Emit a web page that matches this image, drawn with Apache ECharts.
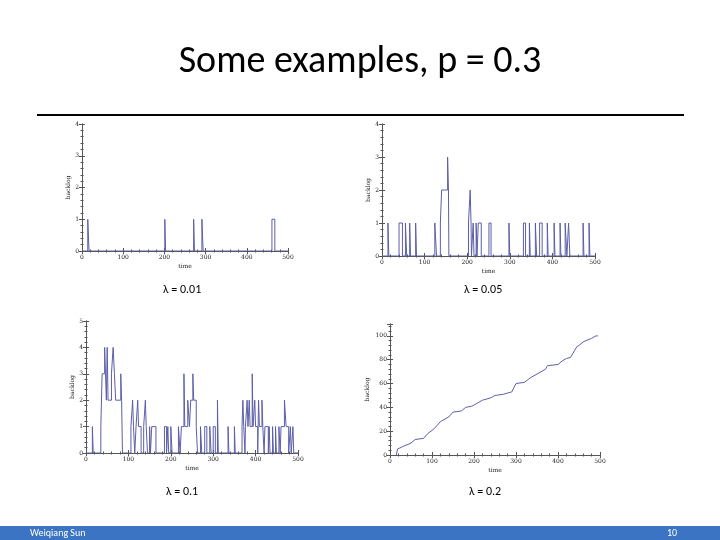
<!DOCTYPE html>
<html><head><meta charset="utf-8">
<script src="https://cdn.jsdelivr.net/npm/echarts@6/dist/echarts.min.js"></script>
<style>html,body{margin:0;padding:0;background:#fff}#main{width:720px;height:540px}</style>
</head><body><div id="main"></div>
<script>
// step data: [time, backlog] — value holds from this time until the next point
const lam001 = [[0,0],[14,1],[17,0],[201,1],[203,0],[271,1],[273,0],[291,1],[294,0],[461,1],[468,0],[500,0]];
const lam005 = [[0,0],[14,1],[16,0],[40,1],[48,0],[55,1],[58,0],[65,1],[67,0],[79,1],[81,0],[124,1],[128,0],
  [137,1],[140,2],[154,3],[156,2],[157,0],[203,1],[207,2],[209,1],[210,0],[214,1],[216,0],[221,1],[223,0],
  [226,1],[233,0],[251,1],[256,0],[298,1],[300,0],[332,1],[337,0],[346,1],[348,0],[360,1],[363,0],[370,1],[376,0],
  [388,1],[390,0],[404,1],[406,0],[418,1],[420,0],[430,1],[434,0],[438,1],[441,0],[472,1],[474,0],[486,1],[488,0],[500,0]];
const lam01 = [[0,0],[15,1],[17,0],[35,1],[38,3],[44,4],[46,3],[48,2],[50,4],[52,2],[60,3],[64,4],[67,3],[70,2],[82,3],
  [84,2],[86,0],[106,1],[110,2],[112,1],[115,0],[118,1],[122,2],[124,1],[130,0],[136,1],[140,2],[142,1],[145,0],
  [150,1],[152,0],[155,1],[165,0],[185,1],[190,0],[193,1],[195,0],[200,1],[203,0],[218,1],[222,0],[225,1],[231,3],
  [233,1],[240,2],[244,1],[247,2],[252,3],[254,2],[260,1],[263,0],[270,1],[273,0],[280,1],[285,0],[292,1],[295,0],
  [300,1],[305,0],[310,2],[312,0],[335,1],[337,0],[350,1],[352,0],[368,1],[370,2],[372,1],[375,0],[376,1],[380,2],
  [382,1],[385,2],[387,1],[392,3],[394,1],[398,2],[400,1],[405,0],[407,2],[409,1],[415,2],[417,1],[420,0],[422,1],
  [430,0],[432,1],[434,0],[440,1],[442,0],[447,1],[449,0],[455,1],[458,0],[460,1],[468,2],[472,1],[478,0],[482,1],
  [484,0],[488,1],[490,0],[500,0]];
const lam02 = [[15,0],[18,5],[30,7],[50,10],[60,13],[80,14],[90,18],[105,22],[120,28],[140,32],[150,36],[170,37],
  [180,40],[195,41],[205,43],[220,46],[240,48],[250,50],[270,51],[290,53],[300,60],[320,61],[335,65],[350,68],
  [370,72],[375,75],[400,76],[410,79],[420,81],[430,82],[440,88],[445,91],[450,92],[460,95],[480,98],[490,100],[495,100]];
const captions = ['λ = 0.01', 'λ = 0.05', 'λ = 0.1', 'λ = 0.2'];

const panels = [
  { data: lam001, step: 'end', ymax: 4, yint: 1, box: [82, 124, 206, 127], cap: [163, 284] },
  { data: lam005, step: 'end', ymax: 4, yint: 1, box: [382, 124, 213, 132], cap: [464, 284] },
  { data: lam01, step: 'end', ymax: 5, yint: 1, box: [86, 321, 212, 132], cap: [166, 486] },
  { data: lam02, step: false, ymax: 110, yint: 20, box: [390, 324, 210, 131], cap: [469, 486] },
];
const lineColor = '#5c5fa8';
const tf = { fontFamily: 'DejaVu Serif', fontSize: 6, color: '#222' };

const grid = [], xAxis = [], yAxis = [], series = [], graphic = [];
panels.forEach((p, i) => {
  const [l, t, w, h] = p.box;
  grid.push({ left: l, top: t, width: w, height: h });
  const ax = { show: true, lineStyle: { color: '#555', width: 1 } };
  const tick = { show: true, inside: true, length: 3, lineStyle: { color: '#555' } };
  const minor = { show: true, splitNumber: 5, length: 1.5, lineStyle: { color: '#555' } };
  xAxis.push({ gridIndex: i, type: 'value', min: 0, max: 500, interval: 100, axisLine: ax, axisTick: tick, minorTick: minor,
    splitLine: { show: false }, axisLabel: { ...tf, margin: 3 }, name: 'time', nameLocation: 'middle', nameGap: 12,
    nameTextStyle: tf });
  xAxis.push({ gridIndex: i, type: 'value', position: 'top', min: 0, max: 500, interval: 100, axisLine: ax, axisTick: tick,
    minorTick: minor, splitLine: { show: false }, axisLabel: { show: false } });
  yAxis.push({ gridIndex: i, type: 'value', min: 0, max: p.ymax, interval: p.yint, axisLine: ax, axisTick: tick,
    minorTick: minor, splitLine: { show: false },
    axisLabel: { ...tf, margin: 3, formatter: v => (v > 100 ? '' : v) },
    name: 'backlog', nameLocation: 'middle', nameGap: p.ymax > 10 ? 20 : 10, nameRotate: 90, nameTextStyle: tf });
  yAxis.push({ gridIndex: i, type: 'value', position: 'right', min: 0, max: p.ymax, interval: p.yint, axisLine: ax,
    axisTick: tick, minorTick: minor, splitLine: { show: false }, axisLabel: { show: false } });
  series.push({ type: 'line', xAxisIndex: 2 * i, yAxisIndex: 2 * i, data: p.data, step: p.step, showSymbol: false,
    lineStyle: { color: lineColor, width: 1 }, silent: true, animation: false });
  graphic.push({ type: 'text', left: p.cap[0], top: p.cap[1],
    style: { text: captions[i], font: '12px Calibri, Carlito, "Liberation Sans", sans-serif', fill: '#000' } });
});

graphic.push(
  { type: 'text', left: 'center', top: 43, style: { text: 'Some examples, p = 0.3', font: '38px Carlito, "Open Sans", sans-serif', fill: '#000' } },
  { type: 'rect', shape: { x: 37, y: 114, width: 647, height: 2 }, style: { fill: '#000' } },
  { type: 'rect', shape: { x: 0, y: 526, width: 720, height: 14 }, style: { fill: '#3b74c2' } },
  { type: 'text', left: 30, top: 528, style: { text: 'Weiqiang Sun', font: '10px Carlito, "Open Sans", sans-serif', fill: '#fff' } },
  { type: 'text', left: 667, top: 528, style: { text: '10', font: '10px Carlito, "Open Sans", sans-serif', fill: '#fff' } }
);

const chart = echarts.init(document.getElementById('main'));
chart.setOption({ animation: false, grid, xAxis, yAxis, series, graphic });
</script></body></html>
